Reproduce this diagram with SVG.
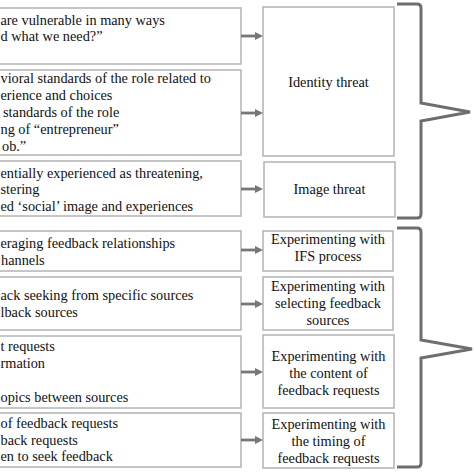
<svg xmlns="http://www.w3.org/2000/svg" width="474" height="474" viewBox="0 0 474 474">
<style>
  .box{fill:#fff;stroke:#b3b3b3;stroke-width:1.5}
  .t{font-family:"Liberation Serif","Times New Roman",serif;font-size:14.3px;fill:#111}
  .c{text-anchor:middle}
  .arr{stroke:#777;stroke-width:2.8;fill:none}
  .brace{stroke:#6e6e6e;stroke-width:3;fill:none;stroke-linejoin:miter}
</style>
<defs>
  <marker id="ah" markerUnits="userSpaceOnUse" viewBox="0 0 8 8" refX="0" refY="4" markerWidth="8" markerHeight="8" orient="auto">
    <path d="M0,0 L8,4 L0,8 z" fill="#777"/>
  </marker>
</defs>
<rect width="474" height="474" fill="#fff"/>

<g id="src1"><rect class="box" x="-10" y="8" width="251" height="56"/>
  <text class="t" x="0.5" y="25">are vulnerable in many ways</text>
  <text class="t" x="0.5" y="41">d what we need?”</text></g>
<g id="src2"><rect class="box" x="-10" y="70" width="251" height="85"/>
  <text class="t" x="0.5" y="83">vioral standards of the role related to</text>
  <text class="t" x="0.5" y="100">erience and choices</text>
  <text class="t" x="3" y="117">standards of the role</text>
  <text class="t" x="0.5" y="134">ng of “entrepreneur”</text>
  <text class="t" x="2" y="151">ob.”</text></g>
<g id="src3"><rect class="box" x="-10" y="161" width="251" height="55"/>
  <text class="t" x="0.5" y="178">entially experienced as threatening,</text>
  <text class="t" x="0.5" y="194">stering</text>
  <text class="t" x="0.5" y="211">ed ‘social’ image and experiences</text></g>
<g id="src4"><rect class="box" x="-10" y="231" width="251" height="40"/>
  <text class="t" x="0.5" y="248">eraging feedback relationships</text>
  <text class="t" x="1" y="265">hannels</text></g>
<g id="src5"><rect class="box" x="-10" y="277" width="251" height="53"/>
  <text class="t" x="0.5" y="300">ack seeking from specific sources</text>
  <text class="t" x="0.5" y="317">lback sources</text></g>
<g id="src6"><rect class="box" x="-10" y="336" width="251" height="72"/>
  <text class="t" x="0.5" y="351">t requests</text>
  <text class="t" x="0.5" y="368">rmation</text>
  <text class="t" x="0.5" y="402">opics between sources</text></g>
<g id="src7"><rect class="box" x="-10" y="413" width="251" height="54"/>
  <text class="t" x="0.5" y="428">of feedback requests</text>
  <text class="t" x="0.5" y="445">back requests</text>
  <text class="t" x="0.5" y="461">en to seek feedback</text></g>

<g id="identity"><rect class="box" x="263" y="7" width="131" height="149"/>
  <text class="t c" x="328.5" y="87">Identity threat</text></g>
<g id="image"><rect class="box" x="264" y="162" width="131" height="55"/>
  <text class="t c" x="329.5" y="194">Image threat</text></g>
<g id="ifs"><rect class="box" x="263" y="231" width="130" height="40"/>
  <text class="t c" x="328" y="244">Experimenting with</text>
  <text class="t c" x="328" y="261">IFS process</text></g>
<g id="selecting"><rect class="box" x="263" y="277" width="130" height="53"/>
  <text class="t c" x="328" y="291">Experimenting with</text>
  <text class="t c" x="328" y="308">selecting feedback</text>
  <text class="t c" x="328" y="325">sources</text></g>
<g id="content"><rect class="box" x="263" y="335" width="131" height="73"/>
  <text class="t c" x="328.5" y="361">Experimenting with</text>
  <text class="t c" x="328.5" y="378">the content of</text>
  <text class="t c" x="328.5" y="395">feedback requests</text></g>
<g id="timing"><rect class="box" x="263" y="413" width="131" height="55"/>
  <text class="t c" x="328.5" y="429">Experimenting with</text>
  <text class="t c" x="328.5" y="446">the timing of</text>
  <text class="t c" x="328.5" y="463">feedback requests</text></g>

<g id="connectors">
  <line class="arr" x1="241" y1="36" x2="255" y2="36" marker-end="url(#ah)"/>
  <line class="arr" x1="241" y1="113" x2="255" y2="113" marker-end="url(#ah)"/>
  <line class="arr" x1="241" y1="189" x2="255" y2="189" marker-end="url(#ah)"/>
  <line class="arr" x1="241" y1="250" x2="255" y2="250" marker-end="url(#ah)"/>
  <line class="arr" x1="241" y1="304" x2="255" y2="304" marker-end="url(#ah)"/>
  <line class="arr" x1="241" y1="372" x2="255" y2="372" marker-end="url(#ah)"/>
  <line class="arr" x1="241" y1="440" x2="255" y2="440" marker-end="url(#ah)"/>
</g>
<g id="braces">
  <path class="brace" d="M397,4 H417 Q421,4 421,8 V103 L470,112 L421,121 V214 Q421,218 417,218 H397"/>
  <path class="brace" d="M397,228 H417 Q421,228 421,232 V340 L472,349 L421,358 V463 Q421,467 417,467 H397"/>
</g>
</svg>
